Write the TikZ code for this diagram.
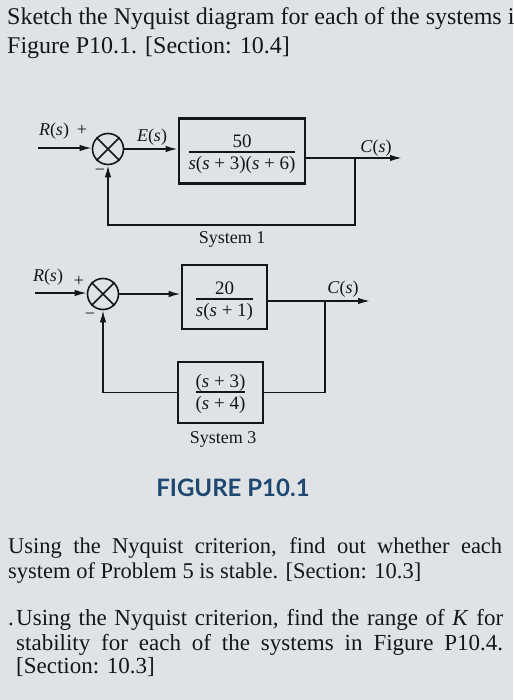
\documentclass[tikz,border=0pt]{standalone}
\usepackage{fontspec}
\setmainfont{Liberation Serif}
\newfontfamily\capfont{Lato}
\usetikzlibrary{positioning,arrows.meta}

\definecolor{paper}{RGB}{223,227,230}
\definecolor{ink}{RGB}{22,22,24}
\definecolor{figblue}{RGB}{30,72,112}

\newcommand{\vs}{\textit{s}}
\newcommand{\sgn}[1]{\textit{#1}(\textit{s})}
\newcommand{\frc}[2]{\begin{tabular}{@{}c@{}}#1\\[-2.6pt]\hline\rule{0pt}{17pt}#2\end{tabular}}
\setlength{\arrayrulewidth}{1.4pt}

\begin{document}
\begin{tikzpicture}[x=1pt,y=-1pt,
    every node/.style={text=ink},
    block/.style={draw=ink,line width=2.8pt,inner sep=0pt},
    tf/.style={inner sep=0pt,font=\fontsize{19}{22}\selectfont},
    sumnode/.style={draw=ink,circle,line width=1.6pt,minimum size=31pt,inner sep=0pt},
    wire/.style={draw=ink,line width=1.6pt},
    arr/.style={wire,-{Latex[length=12pt,width=6.5pt]}},
    lbl/.style={inner sep=0pt,font=\fontsize{18}{20}\selectfont},
    para/.style={anchor=base west,inner sep=0pt},
]
    \fill[paper] (0,0) rectangle (513,700);
    \useasboundingbox (0,0) rectangle (513,700);

    % Question text
    \node[para,font=\fontsize{24}{30}\selectfont] (q1a) at (7,25) {Sketch the Nyquist diagram for each of the systems i};
    \node[para,font=\fontsize{24}{30}\selectfont] (q1b) at (7,54) {Figure P10.1. [Section: 10.4]};

    % System 1
    \node[sumnode] (sum1) at (108,149) {};
    \draw[wire] (sum1.north east) -- (sum1.south west) (sum1.north west) -- (sum1.south east);
    \node[block,minimum width=126pt,minimum height=65pt] (plant1) at (242,151) {};
    \node[tf] (tf1) at (242,154) {\frc{50}{\vs(\vs{} + 3)(\vs{} + 6)}};
    \coordinate (in1) at (38,148);
    \coordinate (out1) at (402,158);
    \coordinate (tap1) at (355,158);
    \coordinate (low1) at (355,225);
    \draw[arr] (in1) -- (sum1.west |- in1);
    \draw[arr] (sum1.east) -- (sum1.east -| plant1.west);
    \draw[arr] (plant1.east |- out1) -- (out1);
    \draw[arr] (tap1) -- (low1) -| (sum1.south);
    \node[lbl] (r1) at (54,131) {\sgn{R}};
    \node[lbl] (plus1) at (82,130) {+};
    \node[lbl] (minus1) at (100,172) {−};
    \node[lbl] (e1) at (152,137) {\sgn{E}};
    \node[lbl] (c1) at (376,148) {\sgn{C}};
    \node[lbl] (sys1) at (232,239) {System 1};

    % System 3
    \node[sumnode] (sum3) at (103,294) {};
    \draw[wire] (sum3.north east) -- (sum3.south west) (sum3.north west) -- (sum3.south east);
    \node[block,minimum width=85pt,minimum height=64pt] (plant3) at (224.5,297) {};
    \node[tf] (tf3) at (224.5,301) {\frc{20}{\vs(\vs{} + 1)}};
    \node[block,minimum width=85pt,minimum height=61pt] (fb3) at (220.5,392.5) {};
    \node[tf] (tfb3) at (220.5,394) {\frc{(\vs{} + 3)}{(\vs{} + 4)}};
    \coordinate (in3) at (35,293);
    \coordinate (out3) at (370,301);
    \coordinate (tap3) at (325,301);
    \draw[arr] (in3) -- (sum3.west |- in3);
    \draw[arr] (sum3.east) -- (sum3.east -| plant3.west);
    \draw[arr] (plant3.east |- out3) -- (out3);
    \draw[wire] (tap3) |- (fb3.east);
    \draw[arr] (fb3.west) -| (sum3.south);
    \node[lbl] (r3) at (48,277) {\sgn{R}};
    \node[lbl] (plus3) at (79,281) {+};
    \node[lbl] (minus3) at (90,316) {−};
    \node[lbl] (c3) at (343,289) {\sgn{C}};
    \node[lbl] (sys3) at (223,439) {System 3};

    % Caption
    \node[text=figblue,font=\capfont\bfseries\fontsize{24}{28}\selectfont] (figcap) at (233,488) {FIGURE P10.1};

    % Problems below
    \node[para,font=\fontsize{22.5}{25}\selectfont] (q2a) at (8,553) {\makebox[494pt][s]{Using the Nyquist criterion, find out whether each}};
    \node[para,font=\fontsize{22.5}{25}\selectfont] (q2b) at (8,578) {system of Problem 5 is stable. [Section: 10.3]};
    \node[para,font=\fontsize{23}{25}\selectfont] (dot3) at (8,625) {.};
    \node[para,font=\fontsize{23}{25}\selectfont] (q3a) at (16,625) {\makebox[487pt][s]{Using the Nyquist criterion, find the range of \textit{K} for}};
    \node[para,font=\fontsize{23}{25}\selectfont] (q3b) at (16,650) {\makebox[487pt][s]{stability for each of the systems in Figure P10.4.}};
    \node[para,font=\fontsize{23}{25}\selectfont] (q3c) at (16,673) {[Section: 10.3]};
\end{tikzpicture}
\end{document}
